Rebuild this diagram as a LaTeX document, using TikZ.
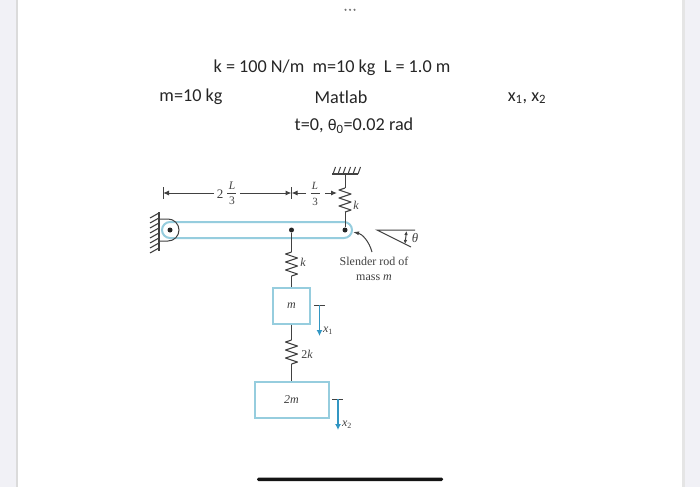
\documentclass[tikz,border=0pt]{standalone}
\usepackage{fontspec}
\setmainfont{Carlito}
\newfontfamily\serifx{Liberation Serif}
\usetikzlibrary{arrows.meta}
\definecolor{rodc}{RGB}{150,205,222}
\definecolor{inkc}{RGB}{65,65,65}
\definecolor{arrc}{RGB}{50,150,195}
\definecolor{sidec}{RGB}{241,241,246}
\tikzset{
 x=1pt,y=-1pt,
 lab/.style={inner sep=0pt,font=\fontsize{18.2}{21}\selectfont,text=black!85},
 small/.style={inner sep=0pt,font=\serifx\fontsize{12}{14}\selectfont,text=inkc},
 ital/.style={inner sep=0pt,font=\serifx\itshape\fontsize{12}{14}\selectfont,text=inkc},
 boxn/.style={draw=rodc,line width=2pt,minimum height=36pt,inner sep=0pt,font=\serifx\itshape\fontsize{12}{14}\selectfont,text=inkc},
 ln/.style={draw=inkc,line width=1pt},
 dim/.style={draw=inkc,line width=1pt,-{Latex[length=6pt,width=5pt]}},
 dot/.style={circle,fill=black!85,inner sep=0pt,minimum size=5pt},
 spring/.style={draw=inkc,line width=1.1pt,line join=round},
 xarrow/.style={draw=arrc,line width=1.8pt,-{Latex[length=6pt,width=6pt]}}
}
\newcommand{\vspring}[2]{%
 \draw[spring] (#1,#2) -- ++(-6,2) -- ++(12,4) -- ++(-12,4) -- ++(12,4) -- ++(-12,4) -- ++(12,4) -- ++(-6,2);}
\begin{document}
\begin{tikzpicture}
\useasboundingbox (0,0) rectangle (700,487);
\fill[white] (0,0) rectangle (700,487);
\fill[sidec] (0,0) rectangle (17,487);
\fill[sidec] (683,0) rectangle (700,487);
\fill[black!14] (15.5,0) rectangle (18,487);
\fill[black!10] (682,0) rectangle (684.5,487);
% header dots
\foreach \i in {345.5,350,354.5}{\fill[black!55] (\i,9.8) circle (1.2);}
% home bar
\fill[black!92,rounded corners=1.5pt] (257,477.5) rectangle (443,481);
% texts
\node[lab] (t1) at (332,68) {k = 100 N/m\ \ m=10 kg\ \ L = 1.0 m};
\node[lab] (t2) at (191,97) {m=10 kg};
\node[lab] (t3) at (341,97) {Matlab};
\node[lab] (t4) at (527,98) {x\textsubscript{1}, x\textsubscript{2}};
\node[lab] (t5) at (354,126) {t=0, {\fontspec{DejaVu Sans}\fontsize{14.5}{17}\selectfont θ}\textsubscript{0}=0.02 rad};
% wall
\draw[ln,line width=1.5pt] (159,212) -- (159,251);
\foreach \y in {213,218,...,248}{\draw[ln,line width=1.1pt] (159,\y) -- (150,\y+5);}
% rod
\draw[rodc,line width=2pt] (170,222) -- (344,222) arc (-90:90:8) -- (170,238) arc (90:270:8);
% pin bracket
\draw[ln] (159,219) -- (168,219) arc (-90:90:11) -- (159,241);
\node[dot] (pin) at (170,230) {};
% dimension line
\node[small,font=\serifx\fontsize{13}{15}\selectfont] (two) at (220,194) {2};
\node[ital,font=\serifx\itshape\fontsize{11.5}{13}\selectfont] (lt) at (232,186) {L};
\node[small,font=\serifx\fontsize{11.5}{13}\selectfont] (th) at (232,201) {3};
\draw[ln,line width=0.7pt] (227,193.5) -- (236,193.5);
\coordinate (d0) at (163,193);
\coordinate (d1) at (291.5,193);
\coordinate (d2) at (337,193);
\coordinate (e0) at (214,193);
\coordinate (e1) at (240,193);
\coordinate (e2) at (306,193);
\coordinate (e3) at (325,193);
\draw[ln] (163,187) -- (163,199);
\draw[ln] (291.5,187) -- (291.5,199);
\draw[dim] (e0) -- (d0);
\draw[dim] (e1) -- (d1);
\draw[dim] (e2) -- (d1);
\draw[dim] (e3) -- (d2);
\node[ital,font=\serifx\itshape\fontsize{11}{13}\selectfont] (l2) at (315,185.5) {L};
\node[small,font=\serifx\fontsize{11}{13}\selectfont] (th2) at (315,201.5) {3};
\draw[ln,line width=0.7pt] (310.5,193) -- (319.5,193);
% ceiling
\draw[ln,line width=1.3pt] (332,174) -- (358,174);
\foreach \x in {333,338,...,358}{\draw[ln] (\x,174) -- (\x+2.5,167);}
% spring right
\coordinate (s1t) at (345,174);
\coordinate (s1b) at (345,188);
\draw[ln] (s1t) -- (s1b);
\vspring{345}{188}
\node[dot] (rdot) at (345,230) {};
\draw[ln] (345,212) -- (rdot);
\node[ital] (kr) at (356,205) {k};
% spring center
\node[dot] (cdot) at (291.5,230) {};
\draw[ln] (cdot) -- (291.5,252);
\vspring{291.5}{252}
\node[ital] (kc) at (303,262) {k};
% masses
\node[boxn,minimum width=36.5pt] (m1) at (291.5,305.5) {m};
\draw[ln] (291.5,276) -- (m1.north);
\draw[ln] (m1.south) -- (291.5,340);
\vspring{291.5}{340}
\node[small,font=\serifx\fontsize{12}{14}\selectfont] (k2) at (307,354) {2\textit{k}};
\node[boxn,minimum width=74pt] (m2) at (291.5,399.5) {2\textit{m}};
\draw[ln] (291.5,364) -- (m2.north);
% x arrows
\draw[ln] (314,305) -- (325,305);
\draw[xarrow] (319.5,305) -- (319.5,336);
\node[ital] (x1) at (328,331) {x\textsubscript{\upshape 1}};
\draw[ln] (332,399) -- (343,399);
\draw[xarrow] (338,399) -- (338,430);
\node[ital] (x2) at (347,425) {x\textsubscript{\upshape 2}};
% theta
\coordinate (ta) at (377,230);
\coordinate (tb) at (415,230);
\coordinate (tc) at (411,247);
\draw[ln] (tb) -- (ta) -- (tc);
\draw[ln,{Latex[length=4pt,width=3.5pt]}-{Latex[length=4pt,width=3.5pt]}] (406.5,231) -- (405,244);
\node[ital,font=\serifx\itshape\fontsize{13}{15}\selectfont] (th0) at (415,238) {θ};
% label
\node[small,align=center,font=\serifx\fontsize{12}{15}\selectfont] (lb) at (374,268.5) {Slender rod of\\mass \textit{m}};
\coordinate (cs) at (372,252);
\coordinate (ce) at (353,232);
\draw[ln,-{Latex[length=6pt,width=4pt]}] (cs) .. controls (369,241) and (362,234) .. (ce);
\end{tikzpicture}
\end{document}
